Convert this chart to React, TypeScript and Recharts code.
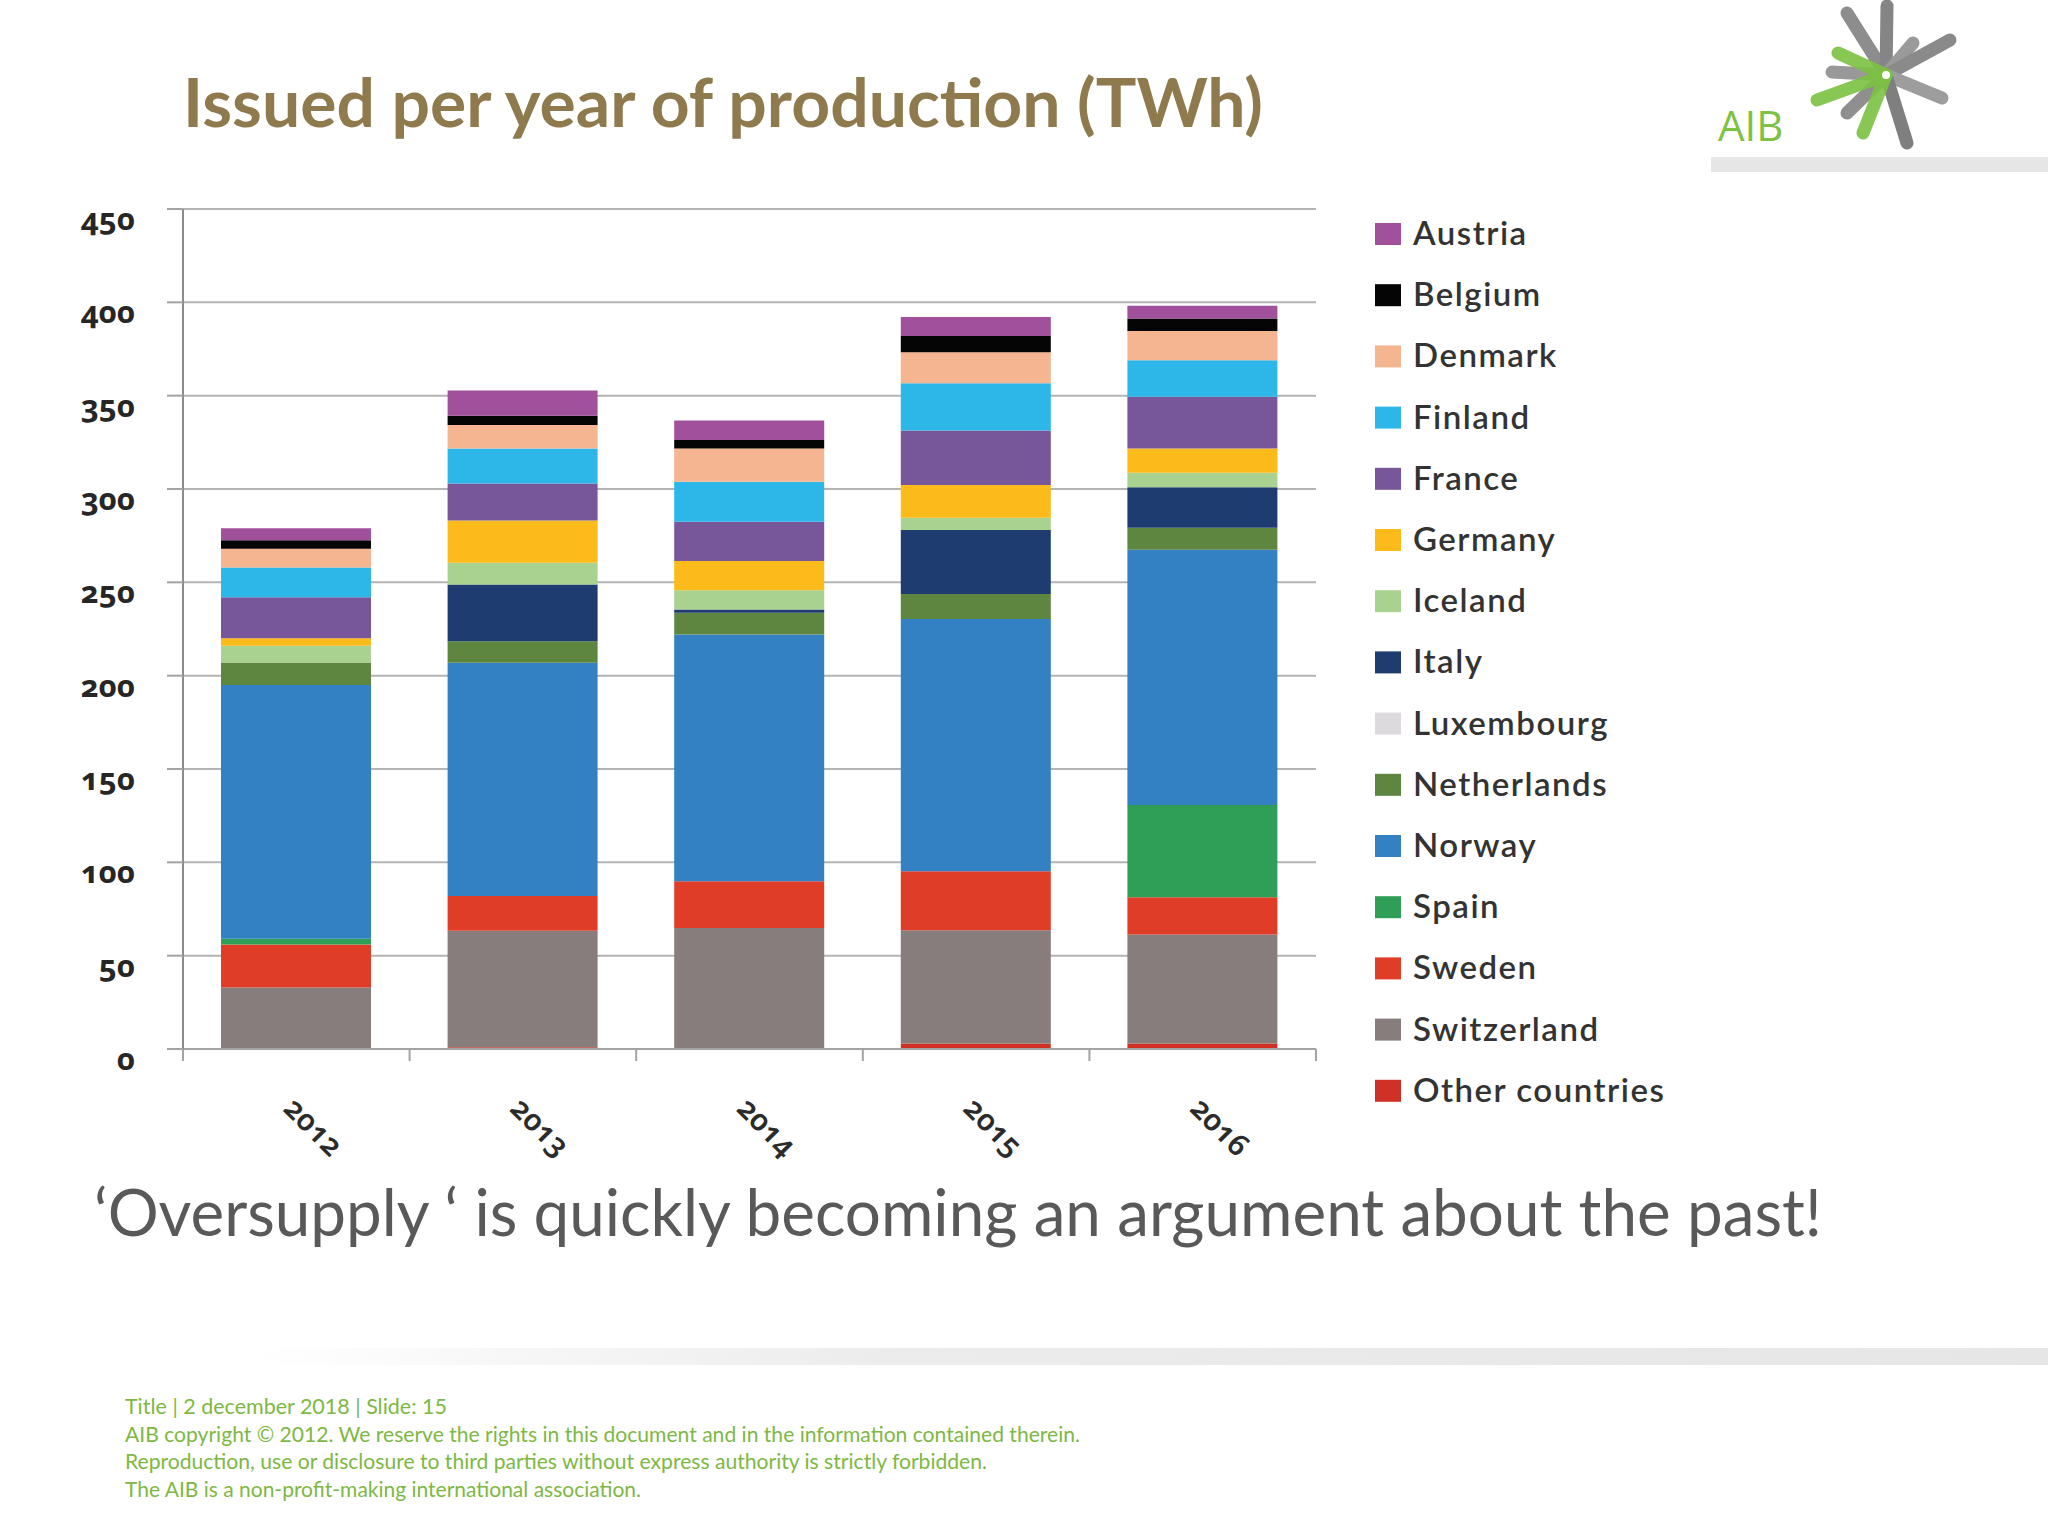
import React from "react";
import { BarChart, Bar, XAxis, YAxis, CartesianGrid } from "recharts";

// Issued volumes per production year, TWh
const years = ["2012", "2013", "2014", "2015", "2016"];

const austria = [6.5, 13.5, 10.5, 10.3, 6.9];
const belgium = [4.5, 5, 4.5, 8.7, 6.7];
const denmark = [10, 12.6, 17.8, 16.6, 15.6];
const finland = [16, 18.7, 21.4, 25.3, 19.6];
const france = [22, 19.9, 21.1, 29.2, 27.7];
const germany = [4, 22.6, 15.6, 17.5, 13];
const iceland = [9, 11.7, 10.3, 6.6, 7.8];
const italy = [0, 30.4, 1.8, 34.3, 21.7];
const luxembourg = [0, 0, 0, 0, 0];
const netherlands = [12, 11.5, 11.7, 13.3, 11.7];
const norway = [136, 125, 132.2, 135.2, 136.8];
const spain = [3, 0, 0, 0, 49.4];
const sweden = [23, 18.6, 25, 31.6, 19.9];
const switzerland = [33, 62.3, 64.8, 60.6, 58.4];
const otherCountries = [0, 1, 0, 3, 3];

const yTicks = [0, 50, 100, 150, 200, 250, 300, 350, 400, 450];

// legend order (top to bottom); stacked in reverse
const series = [
  { key: "austria", name: "Austria", color: "#A1519B", values: austria },
  { key: "belgium", name: "Belgium", color: "#050505", values: belgium },
  { key: "denmark", name: "Denmark", color: "#F5B590", values: denmark },
  { key: "finland", name: "Finland", color: "#2DB7E9", values: finland },
  { key: "france", name: "France", color: "#775699", values: france },
  { key: "germany", name: "Germany", color: "#FCBB1A", values: germany },
  { key: "iceland", name: "Iceland", color: "#A9D18F", values: iceland },
  { key: "italy", name: "Italy", color: "#1F3C70", values: italy },
  { key: "luxembourg", name: "Luxembourg", color: "#DCDADC", values: luxembourg },
  { key: "netherlands", name: "Netherlands", color: "#5E8641", values: netherlands },
  { key: "norway", name: "Norway", color: "#3381C2", values: norway },
  { key: "spain", name: "Spain", color: "#2F9F58", values: spain },
  { key: "sweden", name: "Sweden", color: "#E03D28", values: sweden },
  { key: "switzerland", name: "Switzerland", color: "#867D7C", values: switzerland },
  { key: "other", name: "Other countries", color: "#CF3126", values: otherCountries },
];

const rows = years.map((year, i) => {
  const row: Record<string, string | number> = { year };
  series.forEach((s) => {
    row[s.key] = s.values[i];
  });
  return row;
});

const PLOT_LEFT = 183;
const PLOT_RIGHT = 1316;
const PLOT_TOP = 209;
const PLOT_BOTTOM = 1049;
const HALF_BAND = (PLOT_RIGHT - PLOT_LEFT) / years.length / 2;

const axisGray = "#a3a3a3";
const labelFont = "Lato, 'Open Sans', sans-serif";
const numberFont = "'Noto Sans', 'Open Sans', sans-serif";
const oldStyle = { fontVariantNumeric: "oldstyle-nums", fontFeatureSettings: '"onum"' } as const;

const ValueTick = ({ x, y, payload }: any) => (
  <text
    x={x}
    y={y + 21}
    textAnchor="end"
    fill="#262626"
    fontFamily={numberFont}
    fontWeight={700}
    fontSize={31}
    style={oldStyle}
  >
    {payload.value}
  </text>
);

const YearTick = ({ x, y, payload, index }: any) => {
  const lx = x + 18;
  const ly = y + 77;
  return (
    <g>
      <line x1={x - HALF_BAND} y1={y} x2={x - HALF_BAND} y2={y + 12} stroke={axisGray} strokeWidth={2} />
      {index === years.length - 1 && (
        <line x1={x + HALF_BAND} y1={y} x2={x + HALF_BAND} y2={y + 12} stroke={axisGray} strokeWidth={2} />
      )}
      <text
        x={lx}
        y={ly}
        transform={`rotate(45, ${lx}, ${ly})`}
        textAnchor="middle"
        dominantBaseline="central"
        fill="#2b2b2b"
        fontFamily={numberFont}
        fontWeight={600}
        fontSize={30}
        style={oldStyle}
      >
        {payload.value}
      </text>
    </g>
  );
};

// logo rays: [endX, endY, colour]
const center = { x: 1886, y: 75 };
const rays: [number, number, string][] = [
  [1847, 13, "#8d8d8d"],
  [1887, 6, "#858585"],
  [1913, 43, "#9a9a9a"],
  [1950, 40, "#8a8a8a"],
  [1942, 98, "#9d9d9d"],
  [1907, 143, "#7f7f7f"],
  [1847, 113, "#8f8f8f"],
  [1832, 72, "#999999"],
  [1838, 53, "#7DC242"],
  [1817, 100, "#7DC242"],
  [1863, 133, "#7DC242"],
];

const footerLines: [string, number][] = [
  ["Title | 2 december 2018 | Slide: 15", 322],
  ["AIB copyright © 2012. We reserve the rights in this document and in the information contained therein.", 955],
  ["Reproduction, use or disclosure to third parties without express authority is strictly forbidden.", 862],
  ["The AIB is a non-profit-making international association.", 516],
];

const App = () => {
  const chartWidth = PLOT_RIGHT + 24;
  const chartHeight = PLOT_BOTTOM + 151;
  return (
    <div
      style={{
        position: "absolute",
        left: 0,
        top: 0,
        width: 2048,
        height: 1536,
        background: "#ffffff",
        overflow: "hidden",
      }}
    >
      <svg width={2048} height={1536} style={{ position: "absolute", left: 0, top: 0 }}>
        <defs>
          <linearGradient id="band" x1="0" x2="1" y1="0" y2="0">
            <stop offset="0" stopColor="#ffffff" />
            <stop offset="0.35" stopColor="#ececec" />
            <stop offset="1" stopColor="#e6e6e6" />
          </linearGradient>
        </defs>

        <text
          x={183}
          y={127}
          textLength={1080}
          lengthAdjust="spacingAndGlyphs"
          fill="#8E7A4D"
          fontFamily={labelFont}
          fontWeight={700}
          fontSize={66}
        >
          Issued per year of production (TWh)
        </text>

        {/* logo */}
        {rays.map(([ex, ey, c], i) => (
          <line
            key={i}
            x1={center.x}
            y1={center.y}
            x2={ex}
            y2={ey}
            stroke={c}
            strokeWidth={13}
            strokeLinecap="round"
            opacity={c === "#7DC242" ? 0.9 : 1}
          />
        ))}
        <circle cx={center.x} cy={center.y} r={4} fill="#ffffff" />
        <text x={1718} y={141} fill="#7DC242" fontFamily="'Open Sans', sans-serif" fontWeight={500} fontSize={42}>
          AIB
        </text>
        <rect x={1711} y={157} width={337} height={15} fill="#e6e6e6" />

        {/* legend */}
        {series.map((s, i) => {
          const cy = 234 + i * 61.2;
          return (
            <g key={s.key}>
              <rect x={1375} y={cy - 11} width={26} height={22} fill={s.color} />
              <text
                x={1413}
                y={cy + 11}
                fill="#333333"
                fontFamily={labelFont}
                fontWeight={600}
                fontSize={33}
                letterSpacing={1.5}
              >
                {s.name}
              </text>
            </g>
          );
        })}

        <text
          x={94}
          y={1236}
          textLength={1728}
          lengthAdjust="spacingAndGlyphs"
          fill="#595959"
          fontFamily={labelFont}
          fontSize={66}
        >
          ‘Oversupply ‘ is quickly becoming an argument about the past!
        </text>

        <rect x={250} y={1348} width={1798} height={17} fill="url(#band)" />

        {footerLines.map(([t, w], i) => (
          <text
            key={i}
            x={125}
            y={1414 + i * 27.5}
            textLength={w}
            lengthAdjust="spacingAndGlyphs"
            fill="#7DB843"
            fontFamily={labelFont}
            fontSize={21}
          >
            {t}
          </text>
        ))}
      </svg>

      <div style={{ position: "absolute", left: 0, top: 0 }}>
        <BarChart
          width={chartWidth}
          height={chartHeight}
          data={rows}
          margin={{ top: PLOT_TOP, right: chartWidth - PLOT_RIGHT, left: PLOT_LEFT - 100, bottom: 51 }}
          barSize={150}
        >
          <CartesianGrid vertical={false} stroke="#b4b4b4" strokeWidth={2} />
          <XAxis
            dataKey="year"
            height={100}
            tickLine={false}
            tickSize={0}
            tickMargin={0}
            axisLine={{ stroke: axisGray, strokeWidth: 2 }}
            tick={<YearTick />}
            interval={0}
          />
          <YAxis
            width={100}
            domain={[0, 450]}
            ticks={yTicks}
            tickSize={16}
            tickMargin={32}
            axisLine={{ stroke: "#8c8c8c", strokeWidth: 2 }}
            tickLine={{ stroke: axisGray, strokeWidth: 2 }}
            tick={<ValueTick />}
            interval={0}
          />
          {[...series].reverse().map((s) => (
            <Bar key={s.key} dataKey={s.key} name={s.name} stackId="issued" fill={s.color} isAnimationActive={false} />
          ))}
        </BarChart>
      </div>
    </div>
  );
};

export default App;
